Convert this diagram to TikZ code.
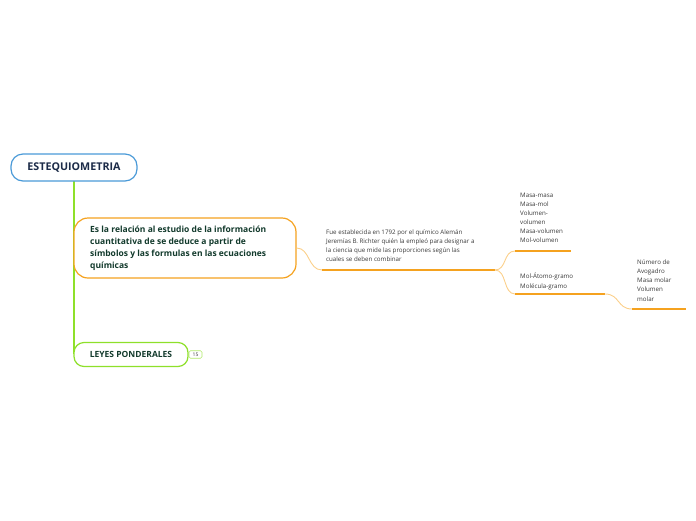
\documentclass[tikz,border=0pt]{standalone}
\usepackage{fontspec}
\setmainfont{Open Sans}
\begin{document}
\begin{tikzpicture}[x=1pt,y=-1pt,
  rootbox/.style={draw=bluec,line width=1.2pt,rounded corners=12pt,fill=white,minimum width=126pt,minimum height=27pt,inner sep=0pt,font=\fontsize{10.7}{12}\selectfont\bfseries,text=navyc},
  mainbox/.style={draw=orangec,line width=1.2pt,rounded corners=14pt,fill=white,minimum width=222pt,minimum height=60pt,inner sep=0pt},
  leybox/.style={draw=greenc,line width=1.2pt,rounded corners=10pt,fill=white,minimum width=114pt,minimum height=24pt,inner sep=0pt,font=\fontsize{8.5}{10}\selectfont\bfseries,text=darkg},
  small/.style={anchor=north west,inner sep=0pt,align=left,text=grayc},
  thin/.style={draw=lightor,line width=0.9pt},
  thick/.style={draw=orangec,line width=2pt}]
\definecolor{bluec}{HTML}{4A9AD8}
\definecolor{navyc}{HTML}{1C2B48}
\definecolor{orangec}{HTML}{F5A21F}
\definecolor{lightor}{HTML}{FBCF8A}
\definecolor{greenc}{HTML}{8EE02A}
\definecolor{darkg}{HTML}{123A2C}
\definecolor{grayc}{HTML}{3A3A3A}
\useasboundingbox (0,0) rectangle (696,520);
% trunk
\coordinate (trunkTop) at (74,181);
\coordinate (trunkBot) at (74,354);
\draw[draw=greenc,line width=2.2pt] (trunkTop) -- (trunkBot);
% boxes
\node[rootbox] (root) at (74,167.5) {ESTEQUIOMETRIA};
\node[mainbox] (rel) at (185,248) {};
\node[anchor=north west,inner sep=0pt,align=left,text=darkg,font=\fontsize{8.5}{12.2}\selectfont\bfseries] (reltext) at (90,225.3) {Es la relación al estudio de la información\\cuantitativa de se deduce a partir de\\símbolos y las formulas en las ecuaciones\\químicas};
\node[leybox] (ley) at (131,354.5) {LEYES PONDERALES};
\node[draw=greenc!70,line width=0.6pt,rounded corners=1.5pt,inner sep=0pt,minimum width=13pt,minimum height=7.5pt,font=\fontsize{5}{5}\selectfont,text=grayc] (tag) at (195.5,354.5) {15};
% connectors
\coordinate (a1) at (322,270);
\coordinate (a2) at (495,270);
\draw[thin] (rel.east) .. controls (310,248) and (308,270) .. (a1);
\draw[thick] (a1) -- (a2);
\node[small,font=\fontsize{6.2}{9.1}\selectfont] (fue) at (326,229.3) {Fue establecida en 1792 por el químico Alemán\\Jeremías B. Richter quién la empleó para designar a\\la ciencia que mide las proporciones según las\\cuales se deben combinar};
\coordinate (b1) at (515,251);
\coordinate (b2) at (571,251);
\coordinate (c1) at (515,294);
\coordinate (c2) at (605,294);
\draw[thin] (a2) .. controls (507,270) and (503,251) .. (b1);
\draw[thin] (a2) .. controls (507,270) and (503,294) .. (c1);
\draw[thick] (b1) -- (b2);
\draw[thick] (c1) -- (c2);
\node[small,font=\fontsize{6.2}{9}\selectfont] (tipos) at (520,193.3) {Masa-masa\\Masa-mol\\Volumen-\\volumen\\Masa-volumen\\Mol-volumen};
\node[small,font=\fontsize{6.2}{9.5}\selectfont] (mol) at (520,272.8) {Mol-Átomo-gramo\\Molécula-gramo};
\coordinate (d1) at (632,309);
\coordinate (d2) at (686,309);
\draw[thin] (c2) .. controls (620,294) and (617,309) .. (d1);
\draw[thick] (d1) -- (d2);
\node[small,font=\fontsize{6.2}{9.2}\selectfont] (avo) at (637,259.3) {Número de\\Avogadro\\Masa molar\\Volumen\\molar};
\end{tikzpicture}
\end{document}
